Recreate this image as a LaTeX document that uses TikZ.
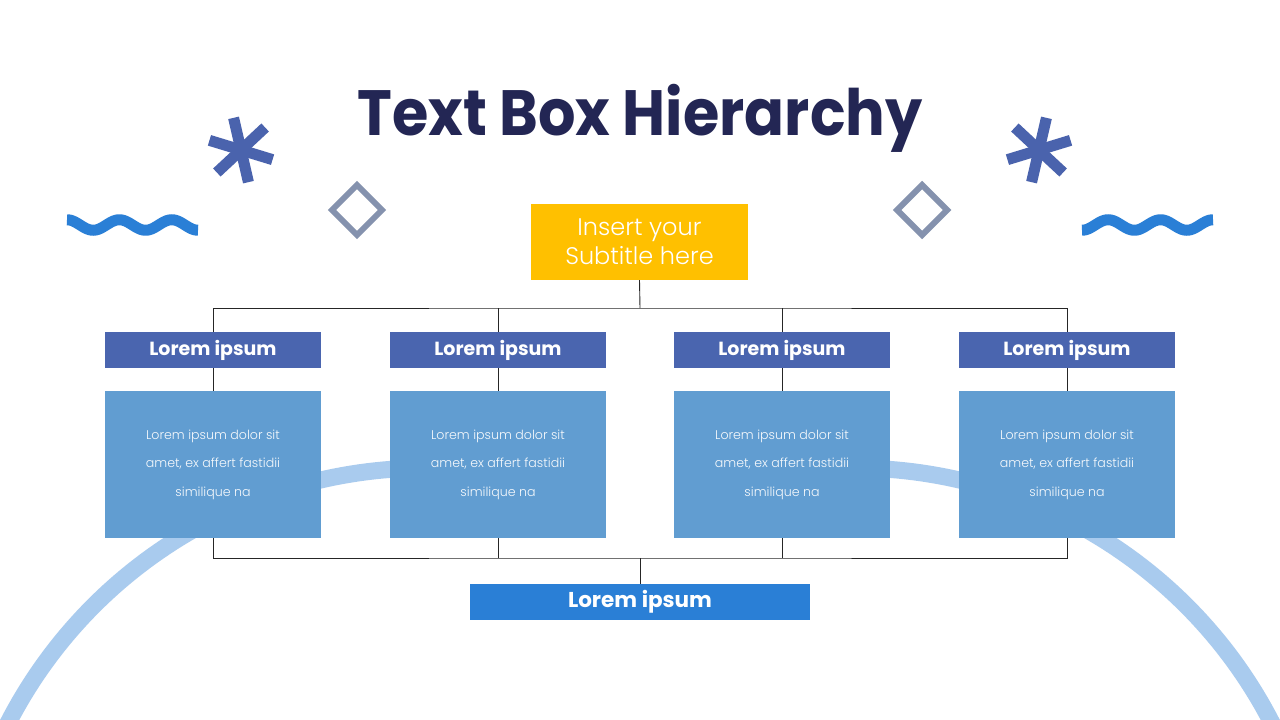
\documentclass[tikz,border=0pt]{standalone}
\usepackage{fontspec}
\setmainfont{Poppins}
\newfontfamily\titlefont{Poppins}[FakeStretch=0.92]
\IfFontExistsTF{Poppins Light}
  {\newfontfamily\lightfont{Poppins Light}}
  {\newfontfamily\lightfont{Poppins}}

\definecolor{titlenavy}{HTML}{232654}
\definecolor{starblue}{HTML}{4A63AD}
\definecolor{headblue}{HTML}{4A65AF}
\definecolor{cardblue}{HTML}{619DD1}
\definecolor{footblue}{HTML}{2A7FD6}
\definecolor{subgold}{HTML}{FFC000}
\definecolor{diamgrey}{HTML}{8592AE}
\definecolor{arcblue}{HTML}{A9CBEE}

\begin{document}
\begin{tikzpicture}[x=1pt, y=-1pt,
  head/.style={fill=headblue, minimum width=216pt, minimum height=36pt,
    inner sep=0pt, text=white, font={\fontsize{19}{19}\selectfont\bfseries}},
  card/.style={fill=cardblue, minimum width=216pt, minimum height=147pt,
    inner sep=0pt, text=white!94!cardblue, align=center,
    font={\lightfont\fontsize{12.6}{28.5}\selectfont}},
  link/.style={draw=black!85, line width=0.9pt},
  starline/.style={draw=starblue, line width=11pt},
  waveline/.style={draw=footblue, line width=11pt},
  diamline/.style={draw=diamgrey, line width=6pt}]

\useasboundingbox (0,0) rectangle (1280,720);
\fill[white] (0,0) rectangle (1280,720);

% two arcs behind the boxes
\draw[arcblue, line width=17pt] plot[domain=165:75, samples=90]
  ({426+470*cos(\x)}, {938-470*sin(\x)});
\draw[arcblue, line width=17pt] plot[domain=15:105, samples=90]
  ({854+470*cos(\x)}, {938-470*sin(\x)});

\node [anchor=base, text=titlenavy, font={\titlefont\fontsize{64}{64}\selectfont\bfseries}]
  (title) at (640,135) {Text Box Hierarchy};

% asterisks
\begin{scope}[shift={(241,150)}, rotate=13]
\draw[starline] (90:33) -- (270:33);
\draw[starline] (30:33) -- (210:33);
\draw[starline] (150:33) -- (330:33);
\end{scope}

\begin{scope}[shift={(1039,150)}, rotate=-13]
\draw[starline] (90:33) -- (270:33);
\draw[starline] (30:33) -- (210:33);
\draw[starline] (150:33) -- (330:33);
\end{scope}

% diamonds
\draw[diamline] (357,185) -- (382,210) -- (357,235) -- (332,210) -- cycle;
\draw[diamline] (922,185) -- (947,210) -- (922,235) -- (897,210) -- cycle;

% waves
\draw[waveline] plot[domain=67:198, samples=100]
  (\x, {225-5.25*cos(6.87*(\x-67))});
\draw[waveline] plot[domain=1082:1213, samples=100]
  (\x, {225+5.25*cos(6.87*(\x-1082))});


\node [fill=subgold, minimum width=217pt, minimum height=76pt, inner sep=0pt,
  text=white, align=center, font={\lightfont\fontsize{24}{29}\selectfont}]
  (sub) at (639.5,242) {Insert your\\Subtitle here};


\node [head] (h1) at (213,350) {Lorem ipsum};
\node [head] (h2) at (498,350) {Lorem ipsum};
\node [head] (h3) at (782,350) {Lorem ipsum};
\node [head] (h4) at (1067,350) {Lorem ipsum};


\node [card] (c1) at (213,464.5) {Lorem ipsum dolor sit\\amet, ex affert fastidii\\similique na};
\node [card] (c2) at (498,464.5) {Lorem ipsum dolor sit\\amet, ex affert fastidii\\similique na};
\node [card] (c3) at (782,464.5) {Lorem ipsum dolor sit\\amet, ex affert fastidii\\similique na};
\node [card] (c4) at (1067,464.5) {Lorem ipsum dolor sit\\amet, ex affert fastidii\\similique na};


\node [fill=footblue, minimum width=340pt, minimum height=36pt, inner sep=0pt,
  text=white, font={\fontsize{21.5}{21.5}\selectfont\bfseries}]
  (foot) at (640,602) {Lorem ipsum};


% connectors
\coordinate (topbus) at (640,308);
\coordinate (botbus) at (640,558);

\draw[link] (sub.south) -- (topbus);
\draw[link] (h1.north) |- (topbus) -| (h4.north);
\draw[link] (h2.north) -- (h2.north |- topbus);
\draw[link] (h3.north) -- (h3.north |- topbus);

\draw[link] (h1.south) -- (c1.north);
\draw[link] (h2.south) -- (c2.north);
\draw[link] (h3.south) -- (c3.north);
\draw[link] (h4.south) -- (c4.north);

\draw[link] (c1.south) |- (botbus) -| (c4.south);
\draw[link] (c2.south) -- (c2.south |- botbus);
\draw[link] (c3.south) -- (c3.south |- botbus);
\draw[link] (botbus) -- (foot.north);

\end{tikzpicture}
\end{document}
